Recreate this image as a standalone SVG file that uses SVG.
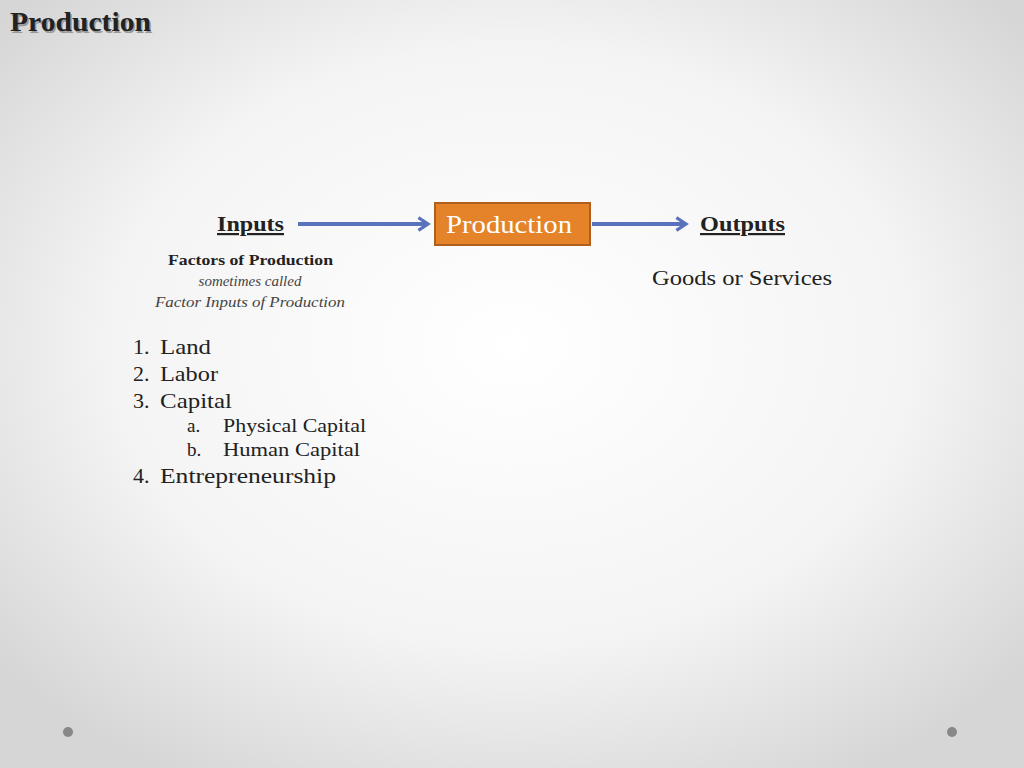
<svg xmlns="http://www.w3.org/2000/svg" width="1024" height="768" viewBox="0 0 1024 768">
<defs>
<radialGradient id="bg" cx="50%" cy="45%" r="65%">
<stop offset="0" stop-color="#ffffff"/><stop offset="0.6" stop-color="#f4f4f4"/><stop offset="1" stop-color="#d6d6d6"/>
</radialGradient>
<marker id="ah" viewBox="0 0 10 10" refX="7" refY="5" markerWidth="4" markerHeight="4" orient="auto" markerUnits="strokeWidth">
<path d="M1,1 L7,5 L1,9" fill="none" stroke="#5a72bb" stroke-width="2"/>
</marker>
<style>
text{font-family:"Liberation Serif","DejaVu Serif",serif;fill:#222}
.b{font-weight:bold}
.u{text-decoration:underline}
.i{font-style:italic;font-size:15px;fill:#444}
.l{font-size:22px}
.s{font-size:19px}
</style>
</defs>
<rect width="1024" height="768" fill="url(#bg)"/>
<text x="10" y="31" class="b" font-size="27" dx="1.5" dy="1.5" textLength="141" lengthAdjust="spacingAndGlyphs" style="fill:#999">Production</text>
<text x="10" y="31" class="b" font-size="27" textLength="141" lengthAdjust="spacingAndGlyphs">Production</text>
<circle cx="68" cy="732" r="5" fill="#888"/>
<circle cx="952" cy="732" r="5" fill="#888"/>
<g id="connectors" stroke="#5a72bb" stroke-width="4" fill="none" marker-end="url(#ah)">
<path d="M298,224 L428,224"/>
<path d="M592,224 L686,224"/>
</g>
<g id="inputs">
<text x="217" y="231" class="b u l" textLength="67" lengthAdjust="spacingAndGlyphs">Inputs</text>
<text x="168" y="265" class="b" font-size="15" textLength="165" lengthAdjust="spacingAndGlyphs">Factors of Production</text>
<text x="250" y="286" class="i" text-anchor="middle">sometimes called</text>
<text x="155" y="307" class="i" textLength="190" lengthAdjust="spacingAndGlyphs">Factor Inputs of Production</text>
</g>
<g id="production">
<rect x="435" y="203" width="155" height="42" fill="#e4832a" stroke="#b0601c" stroke-width="2"/>
<text x="446" y="233" font-size="25" textLength="126" lengthAdjust="spacingAndGlyphs" style="fill:#fff">Production</text>
</g>
<g id="outputs">
<text x="700" y="231" class="b u l" textLength="85" lengthAdjust="spacingAndGlyphs">Outputs</text>
<text x="652" y="285" class="l" textLength="180" lengthAdjust="spacingAndGlyphs">Goods or Services</text>
</g>
<g id="list">
<text x="133" y="354" class="l">1.</text><text x="160" y="354" class="l" textLength="51" lengthAdjust="spacingAndGlyphs">Land</text>
<text x="133" y="381" class="l">2.</text><text x="160" y="381" class="l" textLength="58" lengthAdjust="spacingAndGlyphs">Labor</text>
<text x="133" y="408" class="l">3.</text><text x="160" y="408" class="l" textLength="72" lengthAdjust="spacingAndGlyphs">Capital</text>
<text x="187" y="432" class="s">a.</text><text x="223" y="432" class="s" textLength="143" lengthAdjust="spacingAndGlyphs">Physical Capital</text>
<text x="187" y="456" class="s">b.</text><text x="223" y="456" class="s" textLength="137" lengthAdjust="spacingAndGlyphs">Human Capital</text>
<text x="133" y="483" class="l">4.</text><text x="160" y="483" class="l" textLength="176" lengthAdjust="spacingAndGlyphs">Entrepreneurship</text>
</g>
</svg>
